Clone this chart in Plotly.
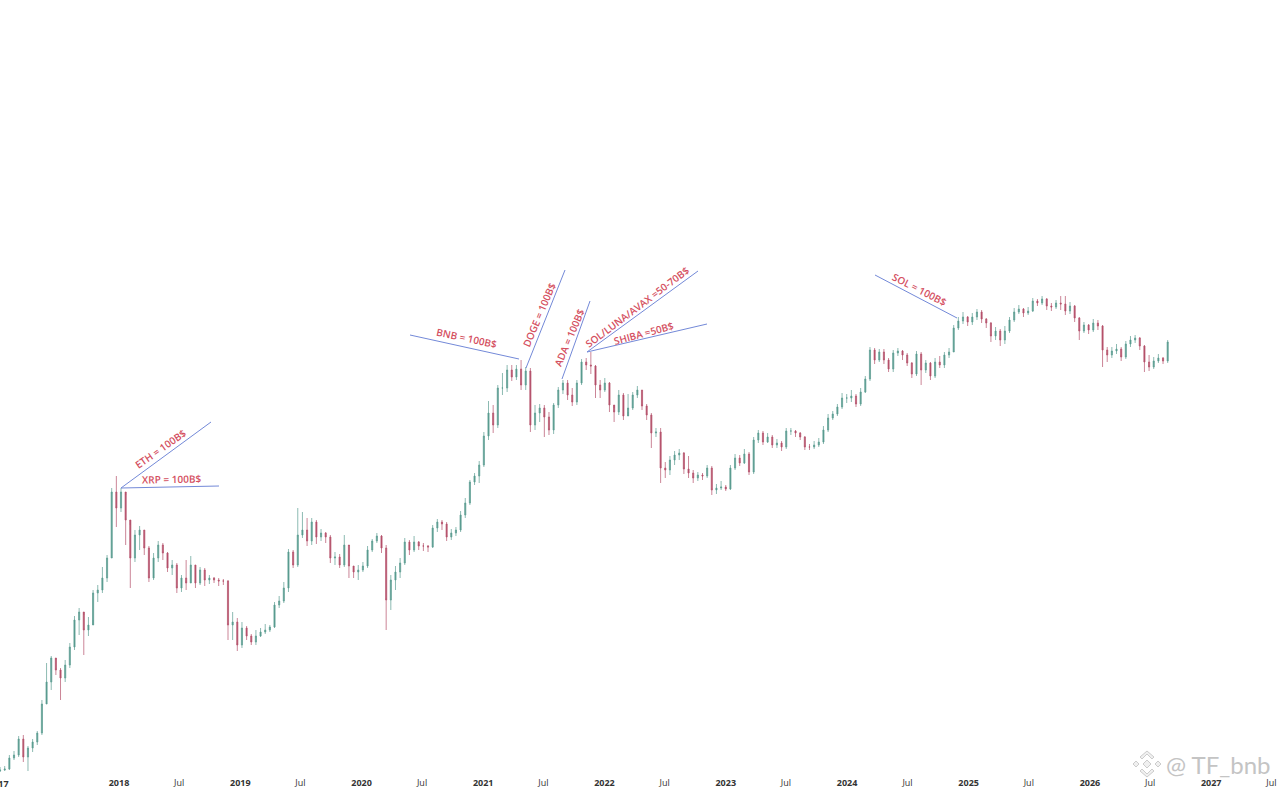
import pandas as pd
import plotly.graph_objects as go

W, H = 1280, 789
PLOT_H = 772

# 14 day candles, height above the bottom of the chart (no price scale is shown)
closes = [
    2, 3, 14, 17, 33, 15, 24, 30, 39, 68,
    90, 114, 102, 94, 107, 125, 152, 160, 142, 147,
    179, 182, 194, 214, 280, 264, 280, 252, 214, 237,
    242, 224, 194, 214, 227, 219, 204, 207, 184, 194,
    189, 207, 189, 202, 192, 194, 192, 191, 191, 147,
    150, 127, 144, 136, 130, 136, 140, 142, 145, 167,
    171, 184, 220, 207, 237, 242, 231, 250, 235, 239,
    235, 214, 215, 207, 227, 206, 200, 202, 206, 222,
    231, 236, 224, 172, 192, 200, 209, 230, 222, 230,
    226, 226, 225, 244, 250, 248, 235, 239, 242, 257,
    269, 290, 296, 307, 336, 359, 347, 384, 384, 402,
    395, 403, 387, 401, 347, 359, 364, 355, 342, 367,
    382, 389, 377, 370, 389, 410, 407, 406, 387, 382,
    389, 367, 360, 377, 356, 364, 377, 382, 366, 357,
    339, 340, 304, 302, 312, 317, 319, 303, 299, 294,
    297, 296, 304, 282, 284, 285, 283, 304, 314, 309,
    318, 300, 332, 339, 330, 335, 327, 329, 325, 341,
    341, 339, 335, 325, 325, 327, 330, 342, 354, 358,
    365, 374, 374, 376, 368, 380, 393, 422, 412, 420,
    412, 403, 419, 421, 417, 409, 398, 418, 402, 409,
    396, 410, 407, 417, 420, 444, 451, 455, 450, 455,
    460, 453, 449, 436, 441, 432, 441, 452, 460, 463,
    459, 461, 471, 469, 473, 466, 465, 469, 468, 461,
    466, 454, 441, 447, 442, 449, 446, 422, 417, 421,
    423, 415, 428, 432, 434, 426, 410, 405, 411, 414,
    411, 430,
]
highs = [
    5, 6, 17, 21, 36, 37, 26, 33, 41, 72,
    109, 116, 112, 104, 112, 129, 156, 164, 157, 155,
    182, 187, 205, 217, 284, 296, 284, 277, 247, 242,
    246, 242, 226, 219, 231, 229, 220, 212, 209, 197,
    212, 216, 207, 205, 204, 197, 195, 194, 193, 192,
    160, 154, 150, 146, 138, 142, 144, 148, 147, 170,
    176, 190, 223, 222, 264, 260, 254, 254, 252, 243,
    240, 237, 220, 218, 237, 226, 206, 207, 210, 226,
    233, 239, 237, 227, 197, 206, 214, 234, 232, 236,
    231, 229, 227, 247, 253, 252, 250, 243, 245, 261,
    274, 292, 299, 311, 340, 371, 367, 387, 399, 407,
    407, 407, 412, 405, 404, 367, 368, 367, 360, 369,
    385, 392, 392, 384, 392, 413, 414, 420, 407, 392,
    394, 390, 364, 382, 379, 378, 380, 386, 382, 368,
    359, 344, 344, 310, 316, 321, 323, 320, 316, 302,
    300, 299, 307, 306, 288, 291, 287, 307, 318, 317,
    323, 320, 335, 342, 341, 339, 337, 333, 331, 344,
    344, 342, 340, 336, 328, 331, 334, 346, 358, 361,
    368, 379, 378, 382, 378, 384, 396, 425, 424, 423,
    423, 414, 422, 424, 422, 419, 410, 421, 420, 412,
    410, 414, 416, 420, 424, 447, 455, 460, 456, 459,
    463, 462, 454, 450, 445, 443, 446, 455, 464, 467,
    464, 465, 474, 473, 476, 474, 469, 472, 476, 476,
    470, 467, 455, 450, 448, 453, 452, 447, 425, 425,
    428, 425, 431, 436, 437, 435, 427, 417, 415, 418,
    415, 432,
]
lows = [
    0, 1, 2, 12, 15, 10, 1, 20, 27, 37,
    68, 82, 97, 72, 90, 104, 122, 137, 117, 136,
    152, 170, 179, 190, 214, 245, 260, 227, 184, 210,
    222, 217, 190, 192, 210, 212, 200, 197, 179, 180,
    182, 202, 184, 187, 186, 188, 189, 186, 187, 132,
    132, 121, 124, 132, 127, 127, 135, 138, 140, 144,
    164, 169, 180, 204, 205, 234, 226, 227, 228, 231,
    229, 209, 207, 204, 205, 194, 194, 192, 200, 204,
    220, 229, 219, 142, 162, 182, 194, 207, 217, 220,
    222, 221, 220, 224, 240, 242, 231, 232, 236, 240,
    254, 267, 287, 289, 305, 332, 339, 344, 377, 380,
    391, 392, 382, 382, 340, 342, 350, 335, 337, 338,
    364, 378, 372, 366, 367, 387, 402, 398, 374, 374,
    380, 360, 350, 357, 352, 360, 362, 374, 362, 352,
    324, 335, 289, 294, 297, 307, 312, 298, 294, 289,
    291, 292, 294, 277, 278, 282, 281, 282, 302, 306,
    308, 297, 298, 329, 327, 329, 324, 324, 321, 323,
    337, 335, 332, 322, 322, 323, 325, 328, 340, 352,
    356, 363, 369, 370, 365, 366, 379, 391, 408, 410,
    408, 400, 400, 416, 412, 406, 394, 396, 387, 399,
    392, 394, 404, 404, 414, 420, 442, 448, 446, 447,
    452, 449, 444, 430, 432, 426, 428, 439, 450, 458,
    455, 457, 460, 466, 467, 462, 461, 463, 462, 457,
    458, 450, 432, 439, 438, 440, 442, 405, 410, 414,
    418, 411, 413, 425, 429, 422, 400, 401, 403, 409,
    408, 409,
]
opens = [1] + closes[:-1]
dates = pd.date_range("2017-01-08", periods=len(closes), freq="14D")

tick_dates = [f"{y}-{m}-01" for y in range(2018, 2028) for m in ("01", "07")]
tick_text = [f"<b>{y}</b>" if m == "Jan" else "Jul"
             for y in range(2018, 2028) for m in ("Jan", "Jul")]

# trend lines, in page pixels: x0, y0, x1, y1
trend_lines = [
    (121, 488, 211, 422),
    (121, 488, 219, 486),
    (410, 335, 519, 359),
    (526, 368, 565, 270),
    (562, 379, 590, 301),
    (587, 352, 698, 271),
    (587, 352, 707, 324),
    (875, 275, 957, 318),
]
# label text, centre x, centre y, angle
labels = [
    ("ETH = 100B$", 160, 449, -35),
    ("XRP = 100B$", 171, 479, -1),
    ("BNB = 100B$", 467, 338, 12),
    ("DOGE = 100B$", 539, 315, -67),
    ("ADA = 100B$", 569, 338, -67),
    ("SOL/LUNA/AVAX =50-70B$", 637, 307, -37),
    ("SHIBA =50B$", 644, 333, -15),
    ("SOL = 100B$", 919, 289, 27),
]


def px(x):
    return x / W


def py(y):
    return (PLOT_H - y) / PLOT_H


def diamond(cx, cy, r):
    return (f"M {px(cx - r)} {py(cy)} L {px(cx)} {py(cy - r)} "
            f"L {px(cx + r)} {py(cy)} L {px(cx)} {py(cy + r)} Z")


def chevron(cx, cy, r, d):
    return (f"M {px(cx - r)} {py(cy + d * r)} L {px(cx)} {py(cy)} "
            f"L {px(cx + r)} {py(cy + d * r)} L {px(cx + r + 2)} {py(cy + d * r - d * 2)} "
            f"L {px(cx)} {py(cy - d * 3)} L {px(cx - r - 2)} {py(cy + d * r - d * 2)} Z")


fig = go.Figure(go.Candlestick(
    x=dates, open=opens, high=highs, low=lows, close=closes,
    increasing=dict(line=dict(color="#5a9c90", width=0.7), fillcolor="#5a9c90"),
    decreasing=dict(line=dict(color="#b5506a", width=0.7), fillcolor="#b5506a"),
    whiskerwidth=0, showlegend=False,
))

shapes = [dict(type="line", xref="paper", yref="paper",
               x0=px(a), y0=py(b), x1=px(c), y1=py(d),
               line=dict(color="#7389d8", width=1))
          for a, b, c, d in trend_lines]

# watermark logo
logo_line = dict(color="#cccccc", width=1)
logo_paths = [diamond(1147, 764, 4), diamond(1136, 764, 3), diamond(1158, 764, 3),
              chevron(1147, 754, 5, 1), chevron(1147, 774, 5, -1)]
shapes += [dict(type="path", xref="paper", yref="paper", path=p,
                line=logo_line, fillcolor="#f0f0f0") for p in logo_paths]

annotations = [dict(text=t, xref="paper", yref="paper", x=px(x), y=py(y),
                    xanchor="center", yanchor="middle", showarrow=False, textangle=a,
                    font=dict(family="Open Sans", size=10, color="#d4505f", weight=600))
               for t, x, y, a in labels]
annotations.append(dict(text="<b>2017</b>", xref="paper", yref="paper", x=px(-2), y=py(783),
                        xanchor="center", yanchor="middle", showarrow=False,
                        font=dict(family="Open Sans", size=9, color="#333333")))
annotations.append(dict(text="@ TF_bnb", xref="paper", yref="paper", x=px(1218), y=py(764),
                        xanchor="center", yanchor="middle", showarrow=False,
                        font=dict(family="Lato", size=24, color="#c4c4c4")))

fig.update_layout(
    width=W, height=H,
    margin=dict(l=0, r=0, t=0, b=H - PLOT_H, pad=0, autoexpand=False),
    paper_bgcolor="white", plot_bgcolor="white",
    boxgap=0.65,
    shapes=shapes, annotations=annotations,
    xaxis=dict(
        range=["2017-01-07 20:00", "2027-07-27"],
        rangeslider=dict(visible=False), automargin=False,
        tickmode="array", tickvals=tick_dates, ticktext=tick_text, tickangle=0,
        tickfont=dict(family="Open Sans", size=9, color="#333333"),
        showgrid=False, zeroline=False, showline=False,
        ticks="outside", ticklen=2, tickcolor="white",
    ),
    yaxis=dict(range=[0, PLOT_H], visible=False, showgrid=False, zeroline=False),
)

# page body has a default margin that would shift the figure
fig.write_html("out.html", config={"displayModeBar": False},
               post_script="document.body.style.margin='0';")
